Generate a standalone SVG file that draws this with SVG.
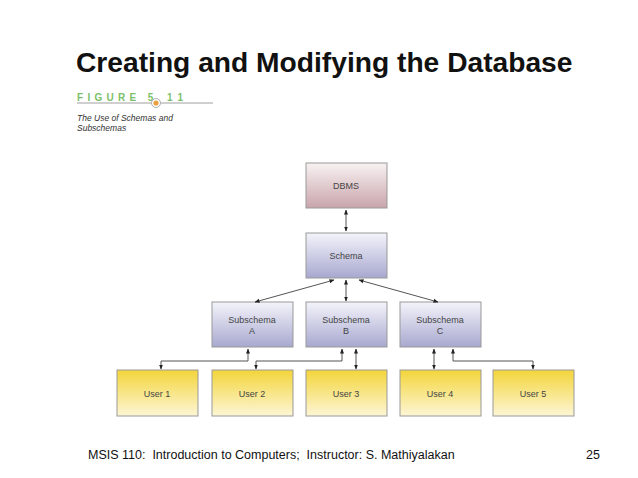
<svg xmlns="http://www.w3.org/2000/svg" width="638" height="478" viewBox="0 0 638 478">
<defs>
<linearGradient id="gD" x1="0" y1="0" x2="0" y2="1"><stop offset="0" stop-color="#f8f2f2"/><stop offset="1" stop-color="#c9a4ac"/></linearGradient>
<linearGradient id="gS" x1="0" y1="0" x2="0" y2="1"><stop offset="0" stop-color="#f4f4fb"/><stop offset="1" stop-color="#a8a8d0"/></linearGradient>
<linearGradient id="gU" x1="0" y1="0" x2="0" y2="1"><stop offset="0" stop-color="#f3d53a"/><stop offset="1" stop-color="#fdf6d6"/></linearGradient>
<marker id="a" viewBox="0 0 10 10" refX="9" refY="5" markerWidth="5" markerHeight="5" orient="auto-start-reverse"><path d="M0,1 L10,5 L0,9 z" fill="#222"/></marker>
<style>
.b{stroke:#999;stroke-width:1}
.t{font-family:"Liberation Sans",Arial,sans-serif;font-size:9px;fill:#444;text-anchor:middle}
.c{fill:none;stroke:#555;stroke-width:1;marker-end:url(#a)}
.d{marker-start:url(#a)}
</style>
</defs>
<rect width="638" height="478" fill="#fff"/>
<text x="76" y="72" font-family="Liberation Sans,Arial,sans-serif" font-size="28.2" font-weight="bold" fill="#111">Creating and Modifying the Database</text>
<text x="77" y="101" font-family="Liberation Sans,Arial,sans-serif" font-size="10" font-weight="bold" fill="#7bbf6a" letter-spacing="4.3">FIGURE 5</text>
<text x="167" y="101" font-family="Liberation Sans,Arial,sans-serif" font-size="10" font-weight="bold" fill="#7bbf6a" letter-spacing="5.6">11</text>
<line x1="161" y1="103" x2="213" y2="103" stroke="#888" stroke-width="0.8"/>
<line x1="77" y1="103" x2="151" y2="103" stroke="#888" stroke-width="0.8"/>
<circle cx="156" cy="103" r="4.5" fill="#fff" stroke="#999" stroke-width="0.8"/>
<circle cx="156" cy="103" r="2.6" fill="#e8a040"/>
<text x="77" y="121" font-family="Liberation Sans,Arial,sans-serif" font-size="8.5" font-style="italic" fill="#333">The Use of Schemas and</text>
<text x="77" y="131" font-family="Liberation Sans,Arial,sans-serif" font-size="8.5" font-style="italic" fill="#333">Subschemas</text>
<g id="dbms"><rect class="b" x="306" y="163" width="81" height="45" fill="url(#gD)"/><text class="t" x="346" y="189">DBMS</text></g>
<g id="schema"><rect class="b" x="306" y="233" width="81" height="45" fill="url(#gS)"/><text class="t" x="346" y="259">Schema</text></g>
<g id="subA"><rect class="b" x="212" y="302" width="81" height="45" fill="url(#gS)"/><text class="t" x="252" y="323">Subschema</text><text class="t" x="252" y="334">A</text></g>
<g id="subB"><rect class="b" x="306" y="302" width="81" height="45" fill="url(#gS)"/><text class="t" x="346" y="323">Subschema</text><text class="t" x="346" y="334">B</text></g>
<g id="subC"><rect class="b" x="400" y="302" width="81" height="45" fill="url(#gS)"/><text class="t" x="440" y="323">Subschema</text><text class="t" x="440" y="334">C</text></g>
<g id="u1"><rect class="b" x="117" y="370" width="81" height="46" fill="url(#gU)"/><text class="t" x="157" y="397">User 1</text></g>
<g id="u2"><rect class="b" x="212" y="370" width="81" height="46" fill="url(#gU)"/><text class="t" x="252" y="397">User 2</text></g>
<g id="u3"><rect class="b" x="306" y="370" width="81" height="46" fill="url(#gU)"/><text class="t" x="346" y="397">User 3</text></g>
<g id="u4"><rect class="b" x="400" y="370" width="81" height="46" fill="url(#gU)"/><text class="t" x="440" y="397">User 4</text></g>
<g id="u5"><rect class="b" x="493" y="370" width="81" height="46" fill="url(#gU)"/><text class="t" x="533" y="397">User 5</text></g>
<g id="connectors">
<path class="c d" d="M346,210 V231"/>
<path class="c d" d="M334,280 L255,302"/>
<path class="c d" d="M346,280 V301"/>
<path class="c d" d="M359,280 L438,302"/>
<path class="c d" d="M248,349 V361 H161 V369"/>
<path class="c d" d="M342,349 V361 H256 V369"/>
<path class="c d" d="M356,349 V369"/>
<path class="c d" d="M434,349 V369"/>
<path class="c d" d="M453,349 V361 H533 V369"/>
</g>
<text x="88" y="459" font-family="Liberation Sans,Arial,sans-serif" font-size="12.5" fill="#111" xml:space="preserve">MSIS 110:  Introduction to Computers;  Instructor: S. Mathiyalakan</text>
<text x="600" y="459" font-family="Liberation Sans,Arial,sans-serif" font-size="12.5" fill="#111" text-anchor="end">25</text>
</svg>
